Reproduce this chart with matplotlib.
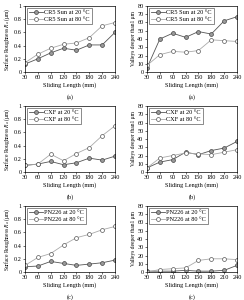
import numpy as np
import matplotlib
matplotlib.use("Agg")
import matplotlib.pyplot as plt

plt.rcParams['font.family'] = ['Liberation Serif', 'DejaVu Serif']
plt.rcParams['mathtext.fontset'] = 'stix'

length = [30, 60, 90, 120, 150, 180, 210, 240]

# surface roughness Ra (um)
ra_cr5_20 = [0.12, 0.20, 0.29, 0.36, 0.33, 0.41, 0.41, 0.60]
ra_cr5_80 = [0.14, 0.27, 0.36, 0.42, 0.44, 0.52, 0.70, 0.75]
ra_cxf_20 = [0.10, 0.12, 0.16, 0.11, 0.14, 0.21, 0.18, 0.24]
ra_cxf_80 = [0.10, 0.12, 0.27, 0.17, 0.28, 0.37, 0.55, 0.70]
ra_pn_20 = [0.08, 0.09, 0.16, 0.13, 0.10, 0.12, 0.14, 0.18]
ra_pn_80 = [0.10, 0.22, 0.28, 0.41, 0.52, 0.57, 0.64, 0.69]

# valleys deeper than 1 um
v_cr5_20 = [5, 40, 47, 42, 49, 46, 62, 67]
v_cr5_80 = [8, 21, 25, 24, 26, 39, 38, 37]
v_cxf_20 = [5, 12, 15, 24, 21, 26, 29, 37]
v_cxf_80 = [5, 17, 20, 23, 22, 21, 24, 27]
v_pn_20 = [1, 1, 1, 2, 1, 1, 2, 8]
v_pn_80 = [0, 3, 4, 5, 14, 16, 16, 15]

names = ['CR5 Sun', 'CXF', 'PN226']
letters = ['(a)', '(b)', '(c)']
ra_data = [(ra_cr5_20, ra_cr5_80), (ra_cxf_20, ra_cxf_80), (ra_pn_20, ra_pn_80)]
v_data = [(v_cr5_20, v_cr5_80), (v_cxf_20, v_cxf_80), (v_pn_20, v_pn_80)]

fs = 4.5
W, H = 244, 300
fig = plt.figure(figsize=(2.44, 3.0), dpi=100)

def style(ax, ylim, yticks, ylabels, ylabel, letter):
    ax.set_xlim(30, 240)
    ax.set_xticks(length)
    ax.set_xticklabels([str(v) for v in length])
    ax.set_ylim(*ylim)
    ax.set_yticks(yticks)
    ax.set_yticklabels(ylabels)
    ax.tick_params(labelsize=fs, length=1.5, width=0.4, pad=1)
    for s in ax.spines.values():
        s.set_linewidth(0.5)
    ax.set_xlabel('Sliding Length (mm)', fontsize=fs, labelpad=1)
    ax.set_ylabel(ylabel, fontsize=fs - 0.5, labelpad=1)
    ax.text(0.5, -0.38, letter, transform=ax.transAxes, ha='center', va='center', fontsize=fs)

def draw(ax, y20, y80, name):
    ax.plot(length, y20, '-o', color='#555555', lw=0.6, ms=2.8, mfc='#999999', mec='#444444',
            mew=0.5, label=name + ' at 20 °C')
    ax.plot(length, y80, '-o', color='#aaaaaa', lw=0.6, ms=2.8, mfc='white', mec='#555555',
            mew=0.5, label=name + ' at 80 °C')
    leg = ax.legend(loc='upper left', fontsize=fs, frameon=True, fancybox=False,
                    borderpad=0.3, handlelength=2.2, handletextpad=0.3, labelspacing=0.2,
                    borderaxespad=0.3)
    leg.get_frame().set_edgecolor('black')
    leg.get_frame().set_linewidth(0.4)

tops = [6, 106, 206]
for i in range(3):
    bottom = 1 - (tops[i] + 66) / H
    axl = fig.add_axes([25 / W, bottom, 90 / W, 66 / H])
    draw(axl, ra_data[i][0], ra_data[i][1], names[i])
    style(axl, (0, 1), np.arange(0, 1.01, 0.2), ['0', '0.2', '0.4', '0.6', '0.8', '1'],
          'Surface Roughness $R_a$ (μm)', letters[i])
    axr = fig.add_axes([147 / W, bottom, 90 / W, 66 / H])
    draw(axr, v_data[i][0], v_data[i][1], names[i])
    style(axr, (0, 80), np.arange(0, 81, 10), [str(v) for v in range(0, 81, 10)],
          'Valleys deeper than1 μm', letters[i])

plt.savefig('out.png', dpi=100)
